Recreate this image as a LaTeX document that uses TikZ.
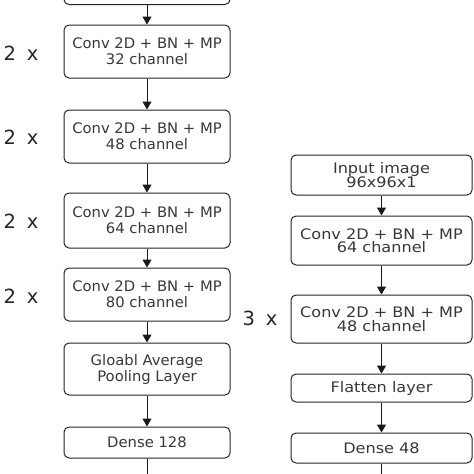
\documentclass[tikz,border=0pt]{standalone}
\usepackage{fontspec}
\setmainfont{DejaVu Sans}
\newfontfamily\blockfont[FakeStretch=1.02]{DejaVu Sans}
\newfontfamily\rblockfont[FakeStretch=1.11]{DejaVu Sans}
\usetikzlibrary{arrows.meta}
\tikzset{
	layer/.style={draw=black!85, fill=white, line width=1pt, rounded corners=5pt, minimum width=166pt, inner sep=0pt, align=center, text=black!78, font=\blockfont\fontsize{14.5}{16}\selectfont},
	rlayer/.style={layer, minimum width=181pt, font=\rblockfont\fontsize{14.5}{13.5}\selectfont},
	flow/.style={draw=black!90, line width=1pt, -{Triangle[width=9pt,length=8pt]}},
	times/.style={text=black!85, font=\fontsize{19.5}{22}\selectfont}
}

\begin{document}
\begin{tikzpicture}[x=1pt, y=-1pt]
			%%%%% START %%%%%
			\fill[white] (0, 0) rectangle (474, 474);
			\useasboundingbox (0, 0) rectangle (474, 474);
			
			% left network
			\node[layer, minimum height=50pt] (prev) at (147, -20.5) {};
			\node[layer, minimum height=53pt] (c32) at (147, 51.5) {Conv 2D + BN + MP\\32 channel};
			\node[layer, minimum height=53pt] (c48) at (147, 136.5) {Conv 2D + BN + MP\\48 channel};
			\node[layer, minimum height=55pt] (c64) at (147, 220.5) {Conv 2D + BN + MP\\64 channel};
			\node[layer, minimum height=53pt] (c80) at (147, 294.5) {Conv 2D + BN + MP\\80 channel};
			\node[layer, minimum height=52pt] (gap) at (147, 369) {Gloabl Average\\Pooling Layer};
			\node[layer, minimum height=31pt] (d128) at (147, 442.5) {Dense 128};
			\coordinate (lout) at (147, 482);
			
			\node[times] (t32) at (21, 53) {2\hspace{0.55em}x};
			\node[times] (t48) at (21, 137) {2\hspace{0.55em}x};
			\node[times] (t64) at (21, 221) {2\hspace{0.55em}x};
			\node[times] (t80) at (21, 296) {2\hspace{0.55em}x};
			
			\draw[flow] (prev) -- (c32);
			\draw[flow] (c32) -- (c48);
			\draw[flow] (c48) -- (c64);
			\draw[flow] (c64) -- (c80);
			\draw[flow] (c80) -- (gap);
			\draw[flow] (gap) -- (d128);
			\draw[flow] (d128) -- (lout);
			
			% right network
			\node[rlayer, minimum height=40pt] (inp) at (381.5, 175) {Input image\\96x96x1};
			\node[rlayer, minimum height=49pt] (r64) at (381.5, 240.5) {Conv 2D + BN + MP\\64 channel};
			\node[rlayer, minimum height=48pt] (r48) at (381.5, 319) {Conv 2D + BN + MP\\48 channel};
			\node[rlayer, minimum height=28pt] (flat) at (381.5, 388) {Flatten layer};
			\node[rlayer, minimum height=30pt] (d48) at (381.5, 448) {Dense 48};
			\coordinate (rout) at (381.5, 490);
			
			\node[times] (t3) at (260, 318) {3\hspace{0.55em}x};
			
			\draw[flow] (inp) -- (r64);
			\draw[flow] (r64) -- (r48);
			\draw[flow] (r48) -- (flat);
			\draw[flow] (flat) -- (d48);
			\draw[flow] (d48) -- (rout);
			%%%%% END %%%%%
\end{tikzpicture}
\end{document}
